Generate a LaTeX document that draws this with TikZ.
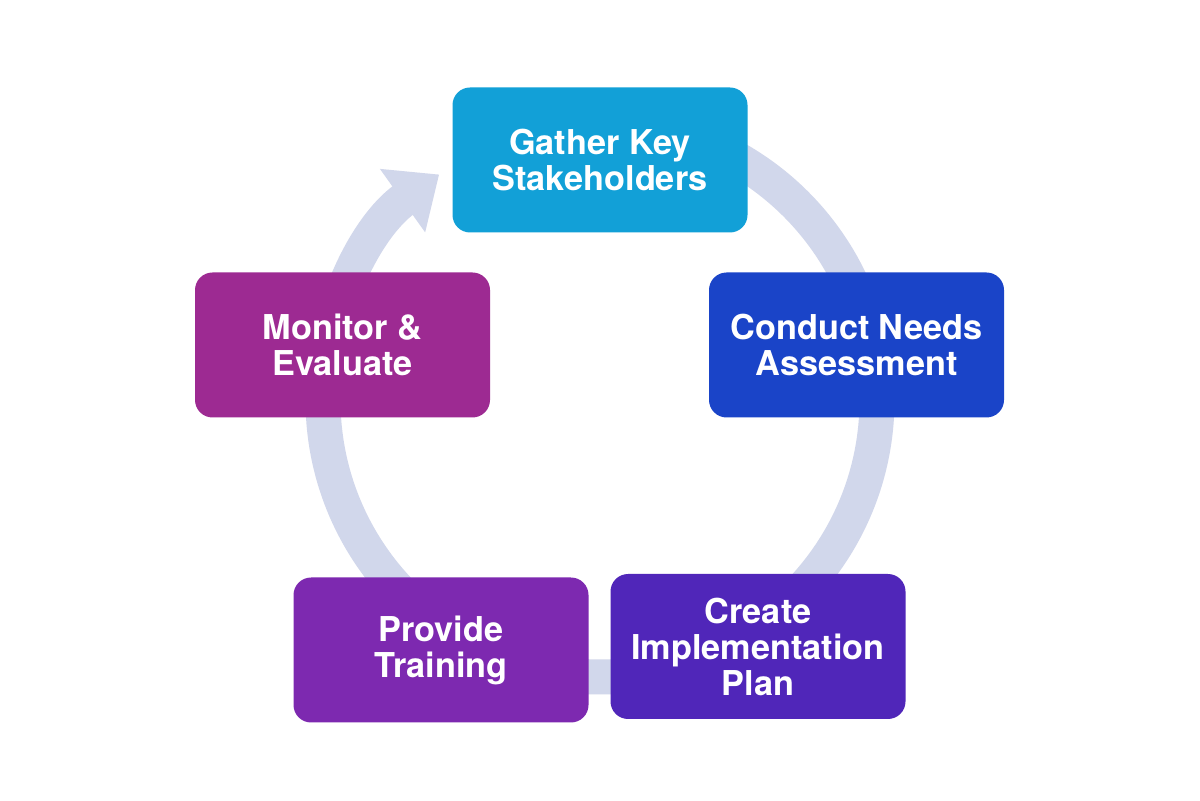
\documentclass[tikz,border=0pt]{standalone}
\usepackage{fontspec}
\setmainfont{TeX Gyre Heros}
\usepackage{tikz}
\usetikzlibrary{
  arrows.meta,
  positioning,
  calc
}
\definecolor{cyGather}{HTML}{12A0D7}
\definecolor{cyNeeds}{HTML}{1A44C8}
\definecolor{cyPlan}{HTML}{5026B9}
\definecolor{cyTrain}{HTML}{7D29B0}
\definecolor{cyMonitor}{HTML}{9D2A92}
\definecolor{cyRing}{HTML}{D1D7EB}
\tikzset{
  cynode/.style={
    rounded corners=10pt, minimum height=2.9cm, minimum width=5.9cm,
    text=white, align=center, inner sep=0pt,
    font=\fontsize{19.5}{20.5}\selectfont\bfseries
  },
  gather/.style={cynode, fill=cyGather},
  needs/.style={cynode, fill=cyNeeds},
  plan/.style={cynode, fill=cyPlan},
  train/.style={cynode, fill=cyTrain},
  monitor/.style={cynode, fill=cyMonitor},
  ring/.style={line width=0.7cm, cyRing, -{Triangle[length=0.9cm, width=1.5cm]}}
}

\begin{document}
\begin{tikzpicture}
  \useasboundingbox[fill=white] (0,0) rectangle (24,16);
  \coordinate (hub) at (12,8);
  % cycle ring behind the steps
  \draw[ring] ($(hub)+(90:5.54)$) arc[start angle=90, end angle=-234.5, radius=5.54];
  \node[gather]  (gather)  at (12,12.8)    {Gather Key\\Stakeholders};
  \node[needs]   (needs)   at (17.13,9.1)  {Conduct Needs\\Assessment};
  \node[plan]    (plan)    at (15.16,3.07) {Create\\Implementation\\Plan};
  \node[train]   (train)   at (8.82,3.0)   {Provide\\Training};
  \node[monitor] (monitor) at (6.85,9.1)   {Monitor \&\\Evaluate};
\end{tikzpicture}
\end{document}
